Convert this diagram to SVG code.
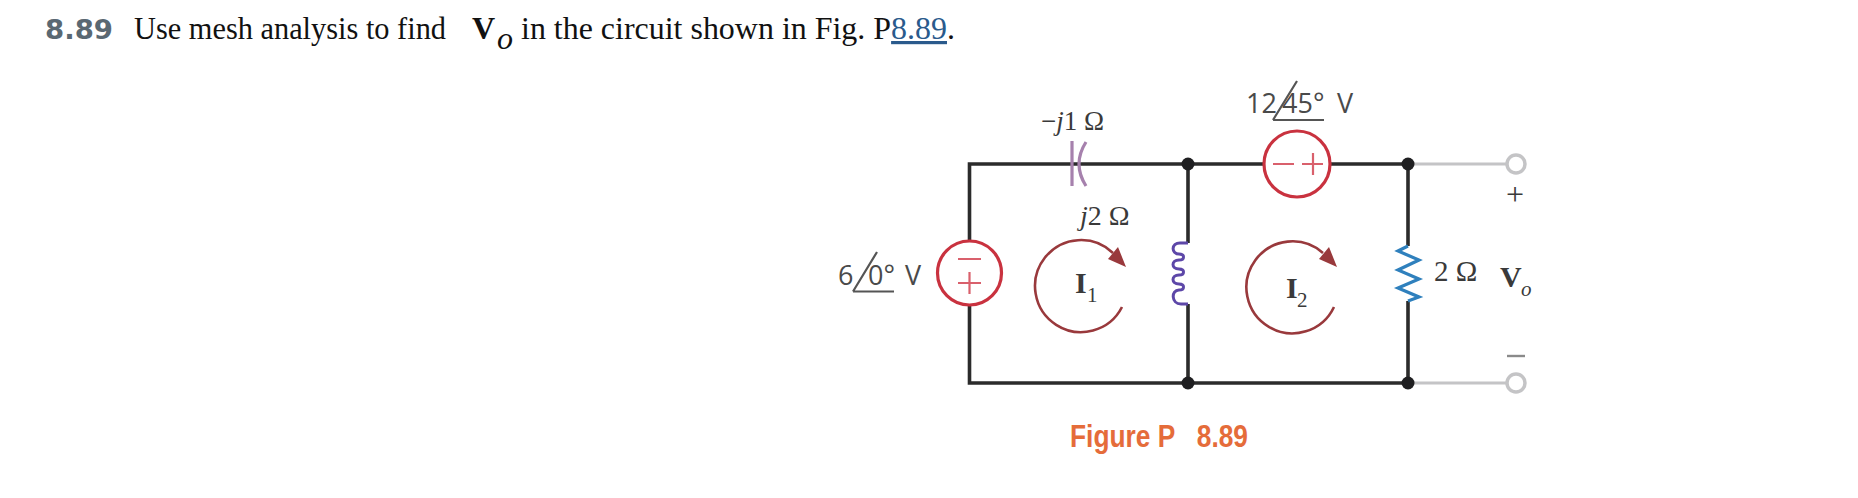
<svg xmlns="http://www.w3.org/2000/svg" width="1858" height="498" viewBox="0 0 1858 498">
<style>
.w{fill:none;stroke:#2b2b2b;stroke-width:3.6}
.g{fill:none;stroke:#c4c4c6;stroke-width:3.2}
.dot{fill:#1f1f21}
.t{fill:#fff;stroke:#c4c4c6;stroke-width:3.5}
.src{fill:#fff;stroke:#c9323f;stroke-width:3.2}
.sgn{fill:none;stroke:#d9606c;stroke-width:2.2}
.loop{fill:none;stroke:#99393c;stroke-width:2.6}
.head{fill:#99393c}
.s{font-family:"Liberation Serif",serif;fill:#3a3a3a}
.a{font-family:"Open Sans","Noto Sans",sans-serif;fill:#4a4a4a;font-size:27px}
.ang{fill:none;stroke:#555;stroke-width:2.2}
.hd{font-family:"Liberation Serif",serif;font-size:32px;fill:#111}
</style>
<rect width="1858" height="498" fill="#fff"/>
<g id="heading">
<text x="45" y="39" font-family="'DejaVu Sans',sans-serif" font-weight="700" font-size="27" fill="#5a6872" textLength="68" lengthAdjust="spacingAndGlyphs">8.89</text>
<text x="134" y="39" class="hd" textLength="312" lengthAdjust="spacingAndGlyphs">Use mesh analysis to find</text>
<text x="472" y="39" class="hd" font-weight="700" font-size="36">V</text>
<text x="497" y="49" class="hd" font-style="italic" font-size="25">o</text>
<text x="521" y="39" class="hd" textLength="434" lengthAdjust="spacingAndGlyphs">in the circuit shown in Fig. P<tspan fill="#2a5a8c" text-decoration="underline">8.89</tspan>.</text>
</g>
<g id="connectors">
<path class="w" d="M969.5 241V164H1297M1188 164V243M1188 304V383M969.5 305V383H1408M1297 164H1408V246M1408 301V383"/>
<path class="g" d="M1408 164H1507M1408 383H1507"/>
</g>
<g id="capacitor">
<path fill="none" stroke="#a681ad" stroke-width="3.2" d="M1072 141V186M1086 142Q1072 164 1086 186"/>
<text class="s" x="1041" y="130" font-size="27">−<tspan font-style="italic">j</tspan>1 Ω</text></g>
<g id="source-v1"><circle class="src" cx="969.5" cy="273" r="32"/>
<path class="sgn" d="M958 259H981M958 283H981M969.5 272V294"/>
<path class="ang" d="M853 291.500L877 252M853 291.500H894"/>
<text class="a" x="838" y="285">6</text><text class="a" x="868" y="285">0°</text><text class="a" x="905" y="285">V</text></g>
<g id="source-v2"><circle class="src" cx="1297" cy="164" r="33"/>
<path class="sgn" d="M1273 164H1294M1302 164H1323M1313 153V175"/>
<path class="ang" d="M1273 120L1297 81M1273 120H1324"/>
<text class="a" x="1246" y="113">12</text><text class="a" x="1282" y="113">45°</text><text class="a" x="1337" y="113">V</text></g>
<g id="inductor"><path fill="none" stroke="#5d47a8" stroke-width="3" d="M1188 243H1180C1171 243 1171 254 1179 254C1185 254 1185 260 1179 260C1171 260 1171 269 1179 269C1185 269 1185 275 1179 275C1171 275 1171 284 1179 284C1185 284 1185 290 1179 290C1171 290 1171 304 1181 304H1188"/>
<text class="s" x="1080" y="225" font-size="28"><tspan font-style="italic">j</tspan>2 Ω</text></g>
<g id="resistor"><path fill="none" stroke="#2f80bd" stroke-width="3.2" d="M1408 246L1398 251L1419 260L1398 270L1419 279L1398 288L1419 297L1408 301"/>
<text class="s" x="1434" y="281" font-size="29">2 Ω</text></g>
<g id="loop-i1"><path class="loop" d="M1122 307A46 46 0 1 1 1113 253"/>
<path class="head" d="M1126 267L1108 259L1118 247Z"/>
<text class="s" x="1075" y="293" font-size="30" font-weight="700">I</text><text class="s" x="1087" y="302" font-size="21" fill="#777">1</text></g>
<g id="loop-i2"><path class="loop" d="M1334 307A46 46 0 1 1 1323 253"/>
<path class="head" d="M1337 267L1319 259L1329 247Z"/>
<text class="s" x="1286" y="298" font-size="30" font-weight="700">I</text><text class="s" x="1297" y="307" font-size="21" fill="#777">2</text></g>
<g id="junctions"><circle class="dot" cx="1188" cy="164" r="6.500"/><circle class="dot" cx="1408" cy="164" r="6.500"/><circle class="dot" cx="1188" cy="383" r="6.500"/><circle class="dot" cx="1408" cy="383" r="6.500"/></g>
<g id="terminal-plus"><circle class="t" cx="1516" cy="164" r="9"/><text x="1515" y="205" text-anchor="middle" class="s" font-size="32" fill="#555">+</text></g>
<g id="terminal-minus"><circle class="t" cx="1516" cy="383" r="9"/><path stroke="#8a8a8a" stroke-width="2.400" d="M1507 356H1525"/></g>
<g id="vo"><text class="s" x="1500" y="287" font-size="30" font-weight="700">V</text><text class="s" x="1521" y="296" font-size="21" font-style="italic" fill="#666">o</text></g>
<text id="caption" x="1070" y="447" font-family="'Liberation Sans',sans-serif" font-weight="700" font-size="31" fill="#e56c3a" textLength="178" lengthAdjust="spacingAndGlyphs" xml:space="preserve">Figure P   8.89</text>
</svg>
